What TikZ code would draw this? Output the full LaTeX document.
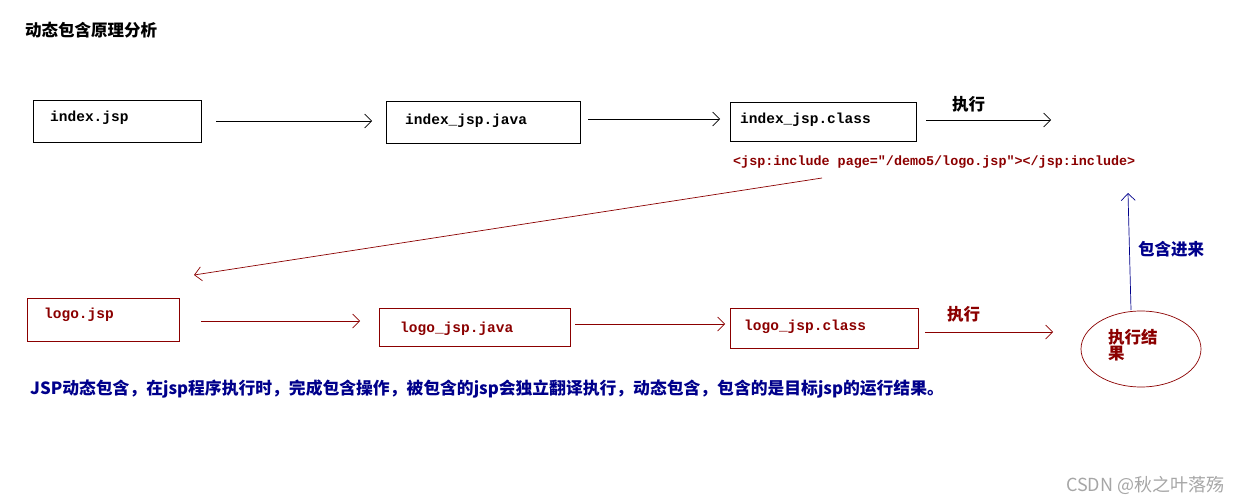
\documentclass[tikz,border=0pt]{standalone}
\usepackage{fontspec}
\setmainfont{Liberation Serif}
\newfontfamily\cjk{Noto Sans CJK SC}
\newfontfamily\mono{Liberation Mono}
\usetikzlibrary{arrows.meta}
\definecolor{dred}{RGB}{139,0,0}
\definecolor{dblue}{RGB}{0,0,139}
\begin{document}
\begin{tikzpicture}[x=1pt,y=-1pt,
  box/.style={draw,line width=0.8pt},
  lbl/.style={anchor=west,font=\mono\bfseries\fontsize{14.5}{15}\selectfont,inner sep=0},
  cj/.style={anchor=west,font=\cjk\bfseries\fontsize{16.5}{17}\selectfont,inner sep=0},
  arr/.style={-{Straight Barb[length=7pt,width=14pt]},line width=0.7pt}]
\useasboundingbox (0,0) rectangle (1253,503);
\node[cj] (title) at (25,30) {动态包含原理分析};
% top row
\draw[box] (33,100) rectangle (201,142); \node[lbl] (t1) at (50,118) {index.jsp};
\draw[box] (386,101) rectangle (580,143); \node[lbl] (t2) at (405,121) {index\_jsp.java};
\draw[box] (730,102) rectangle (916,141); \node[lbl] (t3) at (740,120) {index\_jsp.class};
\coordinate (a1s) at (216,121); \coordinate (a1e) at (372,121);
\coordinate (a2s) at (588,119); \coordinate (a2e) at (720,119);
\coordinate (a3s) at (926,120); \coordinate (a3e) at (1051,120);
\draw[arr] (a1s) -- (a1e);
\draw[arr] (a2s) -- (a2e);
\draw[arr] (a3s) -- (a3e);
\node[cj] (ex1) at (952,104) {执行};
\node[lbl,text=dred,font=\mono\bfseries\fontsize{13.4}{14}\selectfont] (inc) at (733,162) {<jsp:include page="/demo5/logo.jsp"></jsp:include>};
\coordinate (r1) at (822,178); \coordinate (r2) at (194,275);
\draw[arr,dred] (r1) -- (r2);
% bottom row
\begin{scope}[dred]
\draw[box] (27,298) rectangle (179,341); \node[lbl] (u1) at (44,315) {logo.jsp};
\draw[box] (379,308) rectangle (570,346); \node[lbl] (u2) at (400,329) {logo\_jsp.java};
\draw[box] (730,308) rectangle (918,348); \node[lbl] (u3) at (744,327) {logo\_jsp.class};
\coordinate (c1s) at (201,321); \coordinate (c1e) at (360,321);
\coordinate (c2s) at (575,324); \coordinate (c2e) at (725,324);
\coordinate (c3s) at (925,332); \coordinate (c3e) at (1053,332);
\draw[arr] (c1s) -- (c1e);
\draw[arr] (c2s) -- (c2e);
\draw[arr] (c3s) -- (c3e);
\node[cj,text=dred] (ex2) at (947,314) {执行};
\draw[line width=0.7pt] (1141,349) ellipse [x radius=60, y radius=38];
\node[text=dred,align=left,anchor=north west,inner sep=0,font=\cjk\bfseries\fontsize{16.5}{16}\selectfont] (res) at (1108,329) {执行结\\果};
\end{scope}
\coordinate (bu1) at (1131,310); \coordinate (bu2) at (1128,193);
\draw[arr,dblue] (bu1) -- (bu2);
\node[cj,text=dblue] (inl) at (1138,249) {包含进来};
\node[anchor=west,inner sep=0,text=dblue,font=\cjk\bfseries\fontsize{16.8}{17}\selectfont] (desc) at (30,389) {JSP动态包含，在jsp程序执行时，完成包含操作，被包含的jsp会独立翻译执行，动态包含，包含的是目标jsp的运行结果。};
\node[anchor=west,inner sep=0,text=gray!70,font=\cjk\fontsize{18}{19}\selectfont] (wm) at (1066,485) {CSDN @秋之叶落殇};
\end{tikzpicture}
\end{document}
